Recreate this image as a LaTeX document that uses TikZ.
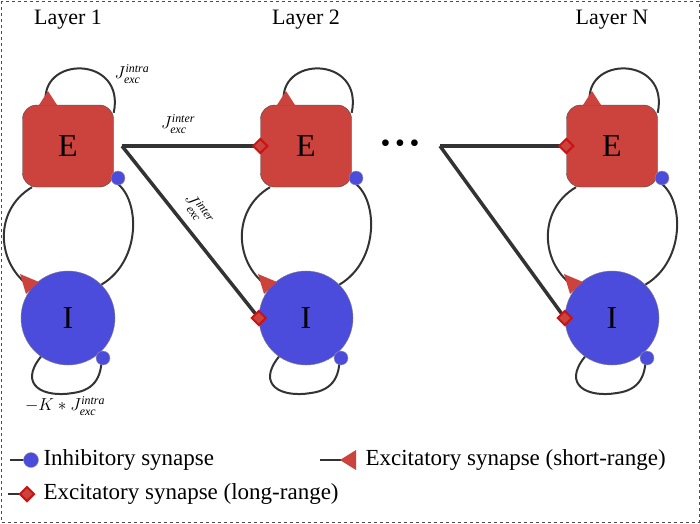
\documentclass[tikz,border=0pt]{standalone}
\usepackage{fontspec}
\setmainfont{Liberation Serif}
\usetikzlibrary{shapes.geometric}
\definecolor{ered}{RGB}{204,66,60}
\definecolor{iblue}{RGB}{76,76,220}
\definecolor{dred}{RGB}{200,20,20}
\begin{document}
\begin{tikzpicture}[x=1pt,y=-1pt,
  conn/.style={draw=black!80,line width=2pt},
  thick conn/.style={draw=black!80,line width=3.5pt},
  Ebox/.style={draw=black!70,fill=ered,rounded corners=14pt,minimum width=91pt,minimum height=82pt,font=\fontsize{32}{34}\selectfont},
  Icirc/.style={circle,draw=black!50,fill=iblue,minimum size=94pt,inner sep=0pt,font=\fontsize{32}{34}\selectfont},
  dot/.style={fill=iblue,draw=black!40},
  tri/.style={fill=ered},
  dia/.style={diamond,fill=ered,draw=dred,line width=2pt,minimum size=15pt,inner sep=0pt},
  lbl/.style={font=\fontsize{22}{24}\selectfont},
  jl/.style={font=\fontsize{17}{19}\selectfont},
  leg/.style={font=\fontsize{23}{25}\selectfont,anchor=west}]
\useasboundingbox (0,0) rectangle (700,523);
\draw[dashed,black!70,line width=1pt] (1,1) rectangle (699,522);
\foreach \i/\x/\n in {1/68/1,2/306/2,3/612/N}{
 \begin{scope}[shift={(\x,0)}]
  \node[lbl] (L\i) at (0,20) {Layer \n};
  \node[Ebox] (E\i) at (0,146) {E};
  \node[Icirc] (I\i) at (0,318) {I};
  \draw[conn] ([xshift=-22pt]E\i.north) .. controls (-30,55) and (58,55) .. ([yshift=-8pt]E\i.north east);
  \fill[tri] (-29,105) -- (-11,105) -- (-20,91) -- cycle;
  \draw[conn] ([xshift=-36pt]E\i.south) .. controls (-75,210) and (-72,265) .. (I\i.140);
  \fill[tri] (-48,274) -- (-29,282) -- (-42,294) -- cycle;
  \draw[conn] (I\i.45) .. controls (75,260) and (72,195) .. ([yshift=6pt]E\i.south east);
  \draw[dot] (50,178) circle (7);
  \draw[conn] (I\i.235) .. controls (-50,385) and (-25,398) .. (5,393) .. controls (28,390) and (35,375) .. (I\i.315);
  \draw[dot] (35,358) circle (7);
 \end{scope}}
\node[jl] (T1) at (132,74) {$J^{\mathit{intra}}_{\mathit{exc}}$};
\node[jl] (K1) at (65,406) {$-K*J^{\mathit{intra}}_{\mathit{exc}}$};
\coordinate (S1) at (122,146);
\coordinate (SN) at (440,146);
\draw[thick conn] (S1) -- (E2.west);
\draw[thick conn] (S1) -- (I2.west);
\draw[thick conn] (SN) -- (E3.west);
\draw[thick conn] (SN) -- (I3.west);
\node[dia] (D1) at (E2.west) {};
\node[dia] (D2) at (I2.west) {};
\node[dia] (D3) at (E3.west) {};
\node[dia] (D4) at (I3.west) {};
\node[jl] (T2) at (178,124) {$J^{\mathit{inter}}_{\mathit{exc}}$};
\node[jl,rotate=-55] (T3) at (198,210) {$J^{\mathit{inter}}_{\mathit{exc}}$};
\node[font=\fontsize{28}{28}\selectfont] (dots) at (400,146) {\textbullet\,\textbullet\,\textbullet};
\draw[conn] (10,460) -- (26,460);
\draw[dot] (31,460) circle (7.5);
\node[leg] (t1) at (40,460) {Inhibitory synapse};
\draw[conn] (320,460) -- (342,460);
\fill[tri] (340,460) -- (356,450) -- (356,470) -- cycle;
\node[leg] (t2) at (362,460) {Excitatory synapse (short-range)};
\draw[conn] (8,494) -- (22,494);
\node[dia] (dl) at (27,494) {};
\node[leg] (t3) at (40,494) {Excitatory synapse (long-range)};
\end{tikzpicture}
\end{document}
